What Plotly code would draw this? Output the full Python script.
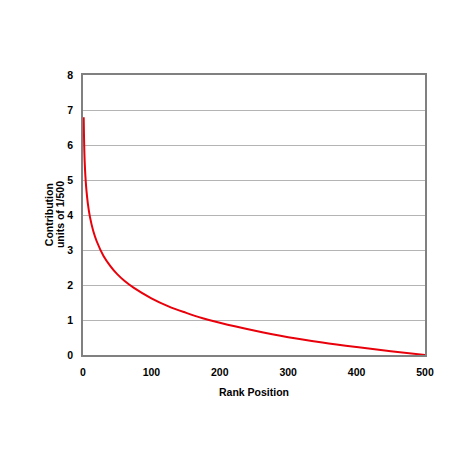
import plotly.graph_objects as go

rank = [1, 2, 3, 4, 5, 7, 10, 15, 20, 30, 40, 50, 60, 75, 100, 125, 150, 175, 200, 250, 300, 350, 400, 450, 500]
contribution = [6.79, 5.79, 5.29, 4.96, 4.71, 4.34, 3.96, 3.54, 3.25, 2.83, 2.54, 2.31, 2.13, 1.91, 1.62,
                1.39, 1.21, 1.05, 0.92, 0.70, 0.51, 0.36, 0.23, 0.11, 0.00]

x_ticks = [0, 100, 200, 300, 400, 500]
y_ticks = [0, 1, 2, 3, 4, 5, 6, 7, 8]
y_title_lines = ["Contribution", "units of 1/500"]

FONT = "Liberation Sans Narrow, Arial Narrow, Liberation Sans, Arial, sans-serif"

fig = go.Figure()
fig.add_trace(go.Scatter(x=rank, y=contribution, mode="lines",
                         line=dict(color="#e8000b", width=2, shape="spline", smoothing=1.0),
                         hoverinfo="skip", showlegend=False))

fig.update_layout(
    width=474, height=474,
    margin=dict(l=75, r=57, t=67, b=127),
    paper_bgcolor="white", plot_bgcolor="white",
    font=dict(family=FONT, size=10.5, color="black"),
    xaxis=dict(range=[0, 500], tickvals=x_ticks, ticktext=[f"<b>{v}</b>" for v in x_ticks],
               showgrid=False, zeroline=False, showline=True, linecolor="#808080", linewidth=1.5,
               mirror=True, ticks="", ticklabelstandoff=7,
               title=dict(text="<b>Rank Position</b>", font=dict(size=10.5), standoff=11)),
    yaxis=dict(range=[0, 8], tickvals=y_ticks, ticktext=[f"<b>{v}</b>" for v in y_ticks],
               showgrid=True, gridcolor="#b4b4b4", gridwidth=1, zeroline=False,
               showline=True, linecolor="#808080", linewidth=1.5, mirror=True,
               ticks="", ticklabelstandoff=6),
    annotations=[
        dict(text=f"<b>{y_title_lines[0]}</b>", xref="paper", yref="paper",
             x=-0.099, y=0.5, xanchor="center", yanchor="middle", textangle=-90,
             showarrow=False, font=dict(size=10.5, family=FONT)),
        dict(text=f"<b>{y_title_lines[1]}</b>", xref="paper", yref="paper",
             x=-0.067, y=0.5, xanchor="center", yanchor="middle", textangle=-90,
             showarrow=False, font=dict(size=10.5, family=FONT)),
    ],
)

fig.write_html("out.html")
